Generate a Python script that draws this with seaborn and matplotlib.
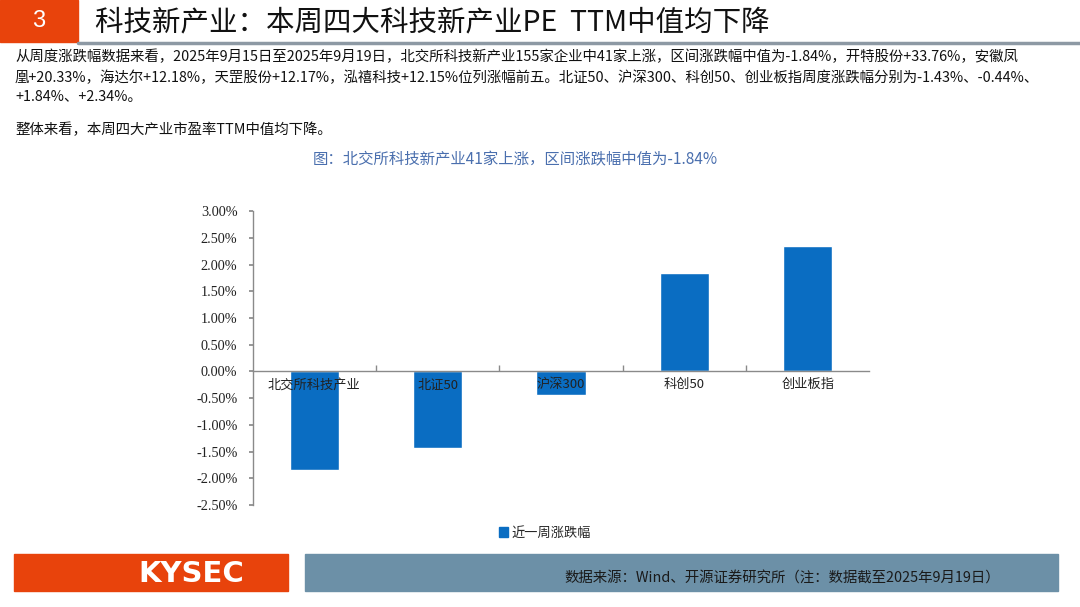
import numpy as np
import pandas as pd
import matplotlib
matplotlib.use("Agg")
import matplotlib.pyplot as plt
import seaborn as sns
from matplotlib.patches import Rectangle, Patch
from matplotlib.lines import Line2D
from matplotlib.ticker import PercentFormatter, FixedLocator

# data
categories = ["北交所科技产业", "北证50", "沪深300", "科创50", "创业板指"]
weekly_change = [-1.84, -1.43, -0.44, 1.84, 2.34]
y_ticks = [-2.5, -2.0, -1.5, -1.0, -0.5, 0.0, 0.5, 1.0, 1.5, 2.0, 2.5, 3.0]
series_name = "近一周涨跌幅"

page_no = "3"
headline = "科技新产业：本周四大科技新产业PE  TTM中值均下降"
body_lines = [
    "从周度涨跌幅数据来看，2025年9月15日至2025年9月19日，北交所科技新产业155家企业中41家上涨，区间涨跌幅中值为-1.84%，开特股份+33.76%，安徽凤",
    "凰+20.33%，海达尔+12.18%，天罡股份+12.17%，泓禧科技+12.15%位列涨幅前五。北证50、沪深300、科创50、创业板指周度涨跌幅分别为-1.43%、-0.44%、",
    "+1.84%、+2.34%。",
]
summary_line = "整体来看，本周四大产业市盈率TTM中值均下降。"
chart_title = "图：北交所科技新产业41家上涨，区间涨跌幅中值为-1.84%"
source_text = "数据来源：Wind、开源证券研究所（注：数据截至2025年9月19日）"

df = pd.DataFrame({"cat": categories, "val": weekly_change})

sns.set_theme(style="white")
plt.rcParams["font.family"] = ["Noto Sans CJK SC", "DejaVu Sans"]
plt.rcParams["axes.unicode_minus"] = False

bar_color = "#0A6DC2"
orange = "#E8430C"
slate = "#6C90A7"

fig = plt.figure(figsize=(10.8, 6.07), dpi=100)
ax = fig.add_axes([0.234, 0.168, 0.571, 0.484])

sns.barplot(data=df, x="cat", y="val", color=bar_color, width=0.4,
            saturation=1, ax=ax)
ax.set_axisbelow(False)

ax.set_ylim(-2.5, 3.0)
ax.set_xlim(-0.5, len(categories) - 0.5)
ax.set_yticks(y_ticks)
ax.yaxis.set_major_formatter(PercentFormatter(decimals=2))
ax.set_xlabel("")
ax.set_ylabel("")

for s in ["top", "right"]:
    ax.spines[s].set_visible(False)
ax.spines["bottom"].set_position(("data", 0))
ax.spines["bottom"].set_color("#8a8a8a")
ax.spines["left"].set_color("#8a8a8a")
ax.spines["bottom"].set_linewidth(1)
ax.spines["left"].set_linewidth(1)

ax.tick_params(axis="y", direction="out", length=3, color="#8a8a8a",
               labelsize=10.3, labelcolor="#222222", left=True, pad=8)
for lab in ax.get_yticklabels():
    lab.set_fontfamily(["Liberation Serif", "DejaVu Serif"])
ax.tick_params(axis="x", which="major", length=0, labelsize=9.5,
               labelcolor="#222222", pad=5)
ax.xaxis.set_minor_locator(FixedLocator(np.arange(0.5, len(categories) - 0.5, 1)))
ax.tick_params(axis="x", which="minor", direction="in", length=4,
               color="#8a8a8a", bottom=True)
for lab in ax.get_xticklabels():
    lab.set_fontfamily(["Noto Sans CJK SC", "DejaVu Sans"])

ax.legend(handles=[Patch(color=bar_color)], labels=[series_name],
          loc="center", bbox_to_anchor=(545 / 1080, 1 - 533 / 607),
          bbox_transform=fig.transFigure, frameon=False, fontsize=9.5,
          handlelength=0.7, handleheight=0.7, handletextpad=0.3)

# header
fig.patches.append(Rectangle((0, 1 - 42 / 607), 78 / 1080, 42 / 607,
                             transform=fig.transFigure, color=orange, zorder=0))
fig.add_artist(Line2D([78 / 1080, 1], [1 - 42.5 / 607, 1 - 42.5 / 607],
                      transform=fig.transFigure, color="#8d99a4", lw=2.5))
fig.text(39 / 1080, 1 - 21 / 607, page_no, color="white", fontsize=17,
         ha="center", va="center", fontfamily=["Liberation Sans", "DejaVu Sans"])
fig.text(95 / 1080, 1 - 22 / 607, headline, color="#111111", fontsize=20.5,
         ha="left", va="center")

# body text
line_y = [57, 78, 97]
for txt, yy in zip(body_lines, line_y):
    fig.text(15 / 1080, 1 - yy / 607, txt, fontsize=10.4, color="#111111",
             ha="left", va="center")
fig.text(15 / 1080, 1 - 130 / 607, summary_line, fontsize=10.4,
         color="#111111", ha="left", va="center")

fig.text(515 / 1080, 1 - 160 / 607, chart_title, fontsize=11.1,
         color="#4a6fae", ha="center", va="center")

# footer
fig.patches.append(Rectangle((14 / 1080, 1 - 591 / 607), 274 / 1080, 37 / 607,
                             transform=fig.transFigure, color=orange, zorder=0))
fig.patches.append(Rectangle((305 / 1080, 1 - 591 / 607), 753 / 1080, 37 / 607,
                             transform=fig.transFigure, color=slate, zorder=0))
fig.text(191 / 1080, 1 - 574 / 607, "KYSEC", color="white", fontsize=21,
         fontweight="bold", ha="center", va="center",
         fontfamily=["DejaVu Sans"])
fig.text(1000 / 1080, 1 - 579 / 607, source_text, color="#1a1a1a",
         fontsize=10.4, ha="right", va="center")

fig.savefig("out.png", dpi=100, facecolor="white")
